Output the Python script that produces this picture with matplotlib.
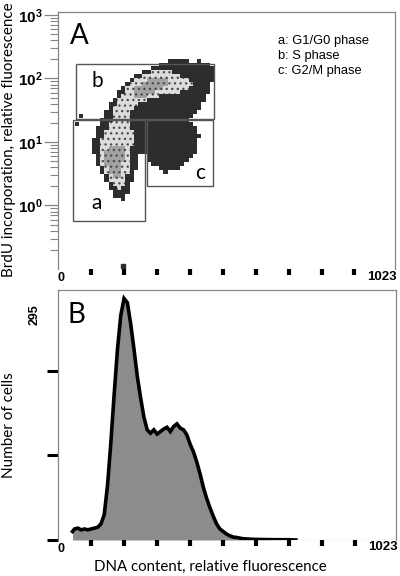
import numpy as np
import matplotlib
matplotlib.use("Agg")
import matplotlib.pyplot as plt
from matplotlib.colors import ListedColormap, BoundaryNorm
from matplotlib.patches import Rectangle
from matplotlib.collections import PolyCollection
from matplotlib.ticker import FixedLocator, LogLocator, NullFormatter

# ---------------- Panel A data: BrdU vs DNA content density map ----------------
# grid: columns of 12.8 DNA units, rows of 1/16 decade counted from 10^3 downwards
N_COLS = 80
N_ROWS = 64
# (row, first column, last column) of the occupied (dark) cells
DARK_SEGMENTS = [
    (11, 26, 30), (11, 33, 33), (12, 24, 35), (13, 22, 36), (14, 20, 36), (15, 18, 36),
    (16, 17, 36), (17, 16, 35), (18, 15, 35), (19, 14, 35), (20, 14, 34),
    (21, 13, 34), (22, 12, 33), (23, 12, 33), (24, 11, 32), (25, 11, 31),
    (25, 5, 5), (26, 10, 30), (27, 10, 31), (27, 4, 4), (28, 9, 32), (29, 9, 32),
    (30, 9, 33), (31, 8, 32), (32, 8, 32), (33, 8, 32), (34, 8, 32),
    (35, 9, 18), (35, 21, 31), (36, 9, 18), (36, 21, 30), (37, 9, 18), (37, 22, 29),
    (38, 10, 18), (38, 24, 28), (39, 10, 17), (39, 25, 25), (40, 11, 17),
    (41, 11, 17), (42, 12, 16), (43, 12, 16), (44, 13, 16), (45, 13, 15), (46, 15, 15),
]
# medium-density (light speckled) cells
LIGHT_SEGMENTS = [
    (14, 22, 26), (15, 20, 28), (16, 18, 30), (17, 17, 31), (18, 16, 30), (19, 16, 28),
    (20, 15, 23), (21, 14, 20), (22, 14, 18), (23, 13, 17), (24, 13, 16), (25, 13, 16),
    (26, 13, 16), (27, 12, 16), (28, 12, 16), (29, 11, 17), (30, 11, 17), (31, 10, 17),
    (32, 10, 17), (33, 10, 16), (34, 10, 16), (35, 10, 16), (36, 10, 16), (37, 10, 16),
    (38, 11, 16), (39, 11, 16), (40, 12, 15), (41, 12, 15), (42, 13, 15), (43, 14, 14),
]
# high-density (grey core) cells
CORE_SEGMENTS = [
    (16, 21, 25), (17, 20, 25), (18, 18, 24), (19, 18, 22), (20, 18, 20),
    (33, 12, 15), (34, 11, 15), (35, 11, 15), (36, 11, 15), (37, 11, 14),
    (38, 12, 14), (39, 12, 14), (40, 13, 14),
]
OFFSCALE_X = [197]
OFFSCALE_Y = [0.11]

GATE_NAMES = ["a", "b", "c"]
GATE_X0 = [47, 54, 269]
GATE_X1 = [263, 475, 472]
GATE_Y0 = [0.56, 23.3, 2.0]
GATE_Y1 = [22.4, 170, 21.9]
GATE_LABEL_X = [118, 118, 430]
GATE_LABEL_Y = [1.08, 92, 3.3]
PHASE_TEXT = ["a: G1/G0 phase", "b: S phase", "c: G2/M phase"]

# ---------------- Panel B data: DNA content histogram ----------------
DNA_X = [44, 50, 60, 70, 80, 90, 100, 110, 120, 130, 140, 150, 160, 170, 180, 190,
         200, 210, 220, 230, 240, 250, 260, 270, 280, 290, 300, 310, 320, 330, 340,
         350, 360, 370, 380, 390, 400, 410, 420, 430, 440, 450, 460, 470, 480, 490,
         500, 510, 520, 530, 540, 560, 580, 600, 650, 700, 720]
CELL_COUNTS = [10, 13, 14, 12, 13, 12, 13, 14, 15, 19, 30, 65, 115, 172, 225, 265,
               285, 280, 255, 225, 193, 168, 145, 130, 126, 130, 125, 128, 131, 133, 128,
               134, 137, 132, 130, 124, 113, 104, 92, 78, 62, 49, 38, 28, 19, 13,
               10, 7, 5, 3.5, 3, 1.5, 1, 0.7, 0.4, 0.3, 0]

LABEL_FONT = ["Lato", "DejaVu Sans"]
TICK_FONT = ["Liberation Sans", "DejaVu Sans"]
plt.rcParams["mathtext.fontset"] = "custom"
plt.rcParams["mathtext.rm"] = "Liberation Sans"
plt.rcParams["mathtext.bf"] = "Liberation Sans:bold"
plt.rcParams["hatch.linewidth"] = 0.9

fig = plt.figure(figsize=(4.0, 5.76), dpi=100)
W, H = 400.0, 576.0
axA = fig.add_axes([58 / W, 1 - 269 / H, 337 / W, 257 / H])
axB = fig.add_axes([58 / W, 1 - 540 / H, 338 / W, 250 / H])

spine_col = "#858585"
for ax in (axA, axB):
    for s in ("top", "right", "left"):
        ax.spines[s].set_color(spine_col)
        ax.spines[s].set_linewidth(0.9)
    ax.spines["bottom"].set_visible(False)
    ax.set_xlim(0, 1023)

# ---- density map ----
Z = np.zeros((N_ROWS, N_COLS))
for level, segs in ((1, DARK_SEGMENTS), (2, LIGHT_SEGMENTS), (3, CORE_SEGMENTS)):
    for r, c0, c1 in segs:
        Z[N_ROWS - 1 - r, c0:c1 + 1] = level
Zm = np.ma.masked_equal(Z, 0)
xedges = np.arange(N_COLS + 1) * 12.8
yedges = 10 ** (-1 + np.arange(N_ROWS + 1) / 16.0)
cmap = ListedColormap(["#2d2d2d", "#dcdcdc", "#a2a2a2"])
norm = BoundaryNorm([0.5, 1.5, 2.5, 3.5], 3)
axA.set_yscale("log")
axA.pcolormesh(xedges, yedges, Zm, cmap=cmap, norm=norm, shading="flat")

# speckle texture over the medium / high density cells
polys = []
ii, jj = np.nonzero(Z >= 2)
for i, j in zip(ii, jj):
    x0, x1 = xedges[j], xedges[j + 1]
    y0, y1 = yedges[i], yedges[i + 1]
    polys.append([(x0, y0), (x1, y0), (x1, y1), (x0, y1)])
speck = PolyCollection(polys, facecolors="none", edgecolors="#4a4a4a", linewidths=0,
                       hatch="...")
axA.add_collection(speck)

axA.plot(OFFSCALE_X, OFFSCALE_Y, "s", color="#2d2d2d", ms=3, clip_on=False)
axA.set_ylim(0.1, 1110)

for name, x0, x1, y0, y1, lx, ly in zip(GATE_NAMES, GATE_X0, GATE_X1, GATE_Y0, GATE_Y1,
                                        GATE_LABEL_X, GATE_LABEL_Y):
    axA.add_patch(Rectangle((x0, y0), x1 - x0, y1 - y0, fill=False, ec="#555555", lw=1.0))
    axA.text(lx, ly, name, family=LABEL_FONT, fontsize=15, ha="center", va="center")

axA.yaxis.set_major_locator(FixedLocator([1, 10, 100, 1000]))
axA.set_yticklabels([r"$\mathbf{10^{0}}$", r"$\mathbf{10^{1}}$", r"$\mathbf{10^{2}}$",
                     r"$\mathbf{10^{3}}$"])
axA.yaxis.set_minor_locator(LogLocator(base=10, subs=np.arange(2, 10) * 1.0, numticks=20))
axA.yaxis.set_minor_formatter(NullFormatter())
axA.tick_params(axis="y", which="major", direction="out", length=10, width=0.9,
                color=spine_col, labelsize=11, pad=1)
axA.tick_params(axis="y", which="minor", direction="out", length=6, width=0.8, color=spine_col)

for ax in (axA, axB):
    ax.set_xticks(np.arange(100, 1000, 100))
    ax.set_xticklabels([])
    ax.tick_params(axis="x", direction="out", length=4, width=3, color="black")
    ax.text(0, -0.035, "0", transform=ax.get_xaxis_transform(), family=TICK_FONT,
            fontweight="bold", fontsize=9, ha="left", va="center")
    ax.text(1.005, -0.03, "1023", transform=ax.transAxes, family=TICK_FONT,
            fontweight="bold", fontsize=9.5, ha="right", va="center")

fig.text(79 / W, 1 - 36 / H, "A", family=LABEL_FONT, fontsize=20, ha="center", va="center")
for i, t in enumerate(PHASE_TEXT):
    fig.text(278 / W, 1 - (41 + 15 * i) / H, t, family=TICK_FONT, fontsize=9.3,
             ha="left", va="center")
fig.text(9 / W, 1 - 140 / H, "BrdU incorporation, relative fluorescence",
         family=LABEL_FONT, fontsize=10.9, rotation=90, ha="center", va="center")

# ---- histogram ----
axB.fill_between(DNA_X, CELL_COUNTS, 0, color="#8c8c8c", lw=0)
axB.plot(DNA_X, CELL_COUNTS, color="black", lw=2.6, solid_joinstyle="miter")
axB.plot([720, 1023], [0, 0], color="#9a9a9a", lw=0.8)
axB.set_ylim(0, 295)
axB.set_yticks([0, 100, 200])
axB.set_yticklabels([])
axB.tick_params(axis="y", direction="out", length=8, width=2.2, color="black")
fig.text(76 / W, 1 - 315 / H, "B", family=LABEL_FONT, fontsize=20, ha="center", va="center")
fig.text(35 / W, 1 - 315 / H, "295", family=TICK_FONT, fontweight="bold", fontsize=9,
         rotation=90, ha="center", va="center")
fig.text(9 / W, 1 - 425 / H, "Number of cells", family=LABEL_FONT, fontsize=11,
         rotation=90, ha="center", va="center")
fig.text(210 / W, 1 - 567 / H, "DNA content, relative fluorescence", family=LABEL_FONT,
         fontsize=10.8, ha="center", va="center")

fig.savefig("out.png", dpi=100)
